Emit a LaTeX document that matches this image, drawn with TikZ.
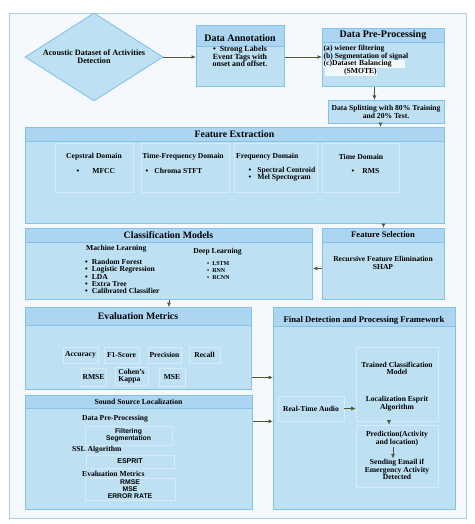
\documentclass[tikz,border=0pt]{standalone}
\usepackage{fontspec}
\setmainfont{Liberation Serif}
\newfontfamily\sansb{Liberation Sans}
\usetikzlibrary{shapes.geometric,arrows.meta,calc}
\definecolor{pagebg}{HTML}{F5F9FD}
\definecolor{framec}{HTML}{A9CEE4}
\definecolor{boxfill}{HTML}{BEE0F3}
\definecolor{headfill}{HTML}{ABD5F1}
\definecolor{boxline}{HTML}{85C2EA}
\definecolor{innerline}{HTML}{D6EBF7}
\definecolor{arrowc}{HTML}{4F5733}
\definecolor{hl}{HTML}{F2F8FC}
\newcommand\fs[2]{\fontsize{#1}{#2}\selectfont\bfseries}
\newcommand\panelhead[2]{%
  \fill[headfill] ([xshift=0.45pt,yshift=-0.45pt]#1.north west) rectangle ([xshift=-0.45pt,yshift=-#2pt]#1.north east);
  \draw[boxline,line width=0.6pt] ([yshift=-#2pt]#1.north west) -- ([yshift=-#2pt]#1.north east);
  \draw[boxline,line width=0.9pt] (#1.north west) rectangle (#1.south east);}
\begin{document}
\begin{tikzpicture}[x=1pt,y=-1pt,
  panel/.style={draw=boxline, fill=boxfill, line width=0.9pt, anchor=north west, inner sep=0pt},
  inbox/.style={draw=innerline, line width=0.6pt, fill=boxfill, inner sep=0pt, align=center, font={\fs{7.6}{7.4}}},
  txt/.style={inner sep=0pt, align=center, font={\fs{7.6}{7.4}}},
  ltxt/.style={inner sep=0pt, anchor=west, font={\fs{7.6}{7.4}}},
  sans/.style={inner sep=0pt, align=center, font={\sansb\fs{6.8}{7}}},
  arr/.style={draw=arrowc, line width=0.9pt, -{Latex[length=4.5pt,width=4pt]}}
]
\useasboundingbox (0,0) rectangle (474,524);
\fill[white] (0,0) rectangle (474,524);
\node[draw=framec, fill=pagebg, line width=1pt, anchor=north west, inner sep=0pt, minimum width=457pt, minimum height=505pt] (frame) at (9,13) {};

% Diamond
\node[diamond, draw=boxline, fill=boxfill, line width=0.9pt, minimum width=138pt, minimum height=88pt, inner sep=0pt] (ds) at (94,57) {};
\node[txt, font={\fs{8.2}{8}}] (dstxt) at (94,57) {Acoustic Dataset of Activities\\Detection};

% Data Annotation
\node[panel, minimum width=88pt, minimum height=61pt] (da) at (196,25) {};
\panelhead{da}{21}
\node[txt, font={\fs{10}{11}}] (datitle) at (240,38.5) {Data Annotation};
\node[txt, font={\fs{7.9}{7.5}}] (datxt) at (240,56.5) {\textbullet\ \ Strong Labels\\Event Tags with\\onset and offset.};

% Data Pre-Processing
\node[panel, minimum width=122pt, minimum height=58pt] (dpp) at (322,28) {};
\panelhead{dpp}{14}
\node[txt, font={\fs{10}{11}}] (dpptitle) at (383,35) {Data Pre-Processing};
\node[ltxt] (dppa) at (323.5,49) {(a) wiener filtering};
\node[ltxt] (dppb) at (323.5,56.5) {(b) Segmentation of signal};
\node[ltxt, fill=hl, inner xsep=0.5pt, inner ysep=0.6pt, text width=81pt] (dppc) at (323,64) {(c)Dataset Balancing};
\node[ltxt, fill=hl, inner xsep=0.5pt, inner ysep=0.6pt, text width=51pt, align=right] (dppd) at (325,71.5) {(SMOTE)\hspace{14pt}};

% Data Splitting
\node[panel, minimum width=116pt, minimum height=23pt] (split) at (328,100) {};
\node[txt] (splittxt) at (386,112) {Data Splitting with 80\% Training\\and 20\% Test.};

% Feature Extraction
\node[panel, minimum width=419pt, minimum height=96pt] (fe) at (25,127) {};
\panelhead{fe}{14}
\node[txt, font={\fs{9.8}{11}}] (fetitle) at (234.5,134) {Feature Extraction};
\node[inbox, anchor=north west, minimum width=78pt, minimum height=49pt] (cep) at (55,143) {};
\node[inbox, anchor=north west, minimum width=88pt, minimum height=49pt] (tfd) at (141,143) {};
\node[inbox, anchor=north west, minimum width=83pt, minimum height=49pt] (fqd) at (234,143) {};
\node[inbox, anchor=north west, minimum width=77pt, minimum height=49pt] (tdd) at (322,143) {};
\node[txt] (ceptitle) at (94,157) {Cepstral Domain};
\node[txt] (tftitle) at (183,157) {Time-Frequency Domain};
\node[ltxt] (fqtitle) at (236,157) {Frequency Domain};
\node[txt] (tdtitle) at (361,157) {Time Domain};
\node[ltxt] (mfcc) at (76.5,171) {\textbullet\hspace{13pt}MFCC};
\node[ltxt] (chroma) at (145.5,171) {\textbullet\hspace{6pt}Chroma STFT};
\node[ltxt] (spc) at (248.5,171) {\textbullet\hspace{6pt}Spectral Centroid};
\node[ltxt] (mel) at (248.5,177.7) {\textbullet\hspace{6pt}Mel Spectogram};
\node[ltxt] (rms) at (351.5,171) {\textbullet\hspace{8pt}RMS};

% Classification Models
\node[panel, minimum width=287pt, minimum height=71pt] (cm) at (25,228) {};
\panelhead{cm}{14}
\node[txt, font={\fs{9.8}{11}}] (cmtitle) at (168.5,235) {Classification Models};
\node[ltxt] (mltitle) at (86,249) {Machine Learning};
\node[ltxt] (ml1) at (85,262) {\textbullet\hspace{4pt}Random Forest};
\node[ltxt] (ml2) at (85,269.5) {\textbullet\hspace{4pt}Logistic Regression};
\node[ltxt] (ml3) at (85,277) {\textbullet\hspace{4pt}LDA};
\node[ltxt] (ml4) at (85,284) {\textbullet\hspace{4pt}Extra Tree};
\node[ltxt] (ml5) at (85,291) {\textbullet\hspace{4pt}Calibrated Classifier};
\node[txt] (dltitle) at (217.5,252) {Deep Learning};
\node[ltxt, font={\fs{6}{6}}] (dl1) at (207,264) {\textbullet\hspace{3pt}LSTM};
\node[ltxt, font={\fs{6}{6}}] (dl2) at (207,270.7) {\textbullet\hspace{3pt}RNN};
\node[ltxt, font={\fs{6}{6}}] (dl3) at (207,277.4) {\textbullet\hspace{3pt}RCNN};

% Feature Selection
\node[panel, minimum width=122pt, minimum height=71pt] (fs) at (322,228) {};
\panelhead{fs}{14}
\node[txt, font={\fs{8.6}{10}}] (fstitle) at (383,235) {Feature Selection};
\node[txt, font={\fs{7.6}{8}}] (fstxt) at (383,263) {Recursive Feature Elimination\\SHAP};

% Evaluation Metrics
\node[panel, minimum width=226pt, minimum height=82pt] (em) at (25,307) {};
\panelhead{em}{18}
\node[txt, font={\fs{9.8}{11}}] (emtitle) at (138,316) {Evaluation Metrics};
\node[inbox, minimum width=35pt, minimum height=16pt] (acc) at (80.5,355) {Accuracy};
\node[inbox, minimum width=35pt, minimum height=16pt] (fone) at (121.5,355) {F1-Score};
\node[inbox, minimum width=33pt, minimum height=16pt] (prec) at (164.5,355) {Precision};
\node[inbox, minimum width=31pt, minimum height=16pt] (rec) at (204.5,355) {Recall};
\node[inbox, minimum width=25pt, minimum height=18pt] (rmse) at (93.5,377) {RMSE};
\node[inbox, minimum width=33pt, minimum height=18pt, align=left] (ck) at (131.5,376) {Cohen's\\Kappa};
\node[inbox, minimum width=26pt, minimum height=18pt] (mse) at (172,377) {MSE};

% Sound Source Localization
\node[panel, minimum width=227pt, minimum height=114pt] (ssl) at (25,395) {};
\panelhead{ssl}{13}
\node[txt, font={\fs{7.7}{9}}] (ssltitle) at (138.5,401.5) {Sound Source Localization};
\node[ltxt] (sslpre) at (82,419) {Data Pre-Processing};
\node[inbox, minimum width=87pt, minimum height=19pt, font={\sansb\fs{6.8}{7}}] (sslbox1) at (128.5,435.5) {Filtering\\Segmentation};
\node[ltxt] (sslalg) at (72,450) {SSL Algorithm};
\node[inbox, minimum width=88pt, minimum height=13pt, font={\sansb\fs{7}{7}}] (sslbox2) at (130,461.5) {ESPRIT};
\node[ltxt] (sslev) at (82,474) {Evaluation Metrics};
\node[inbox, minimum width=90pt, minimum height=22pt, font={\sansb\fs{6.8}{7}}] (sslbox3) at (130,489.5) {RMSE\\MSE\\ERROR RATE};

% Final Detection
\node[panel, minimum width=182pt, minimum height=202pt] (fd) at (273,307) {};
\panelhead{fd}{19}
\node[txt, font={\fs{8.7}{10}}] (fdtitle) at (364,320) {Final Detection and Processing Framework};
\node[inbox, minimum width=66pt, minimum height=25pt] (rta) at (311,408.5) {Real-Time Audio};
\node[inbox, minimum width=82pt, minimum height=74pt] (tr) at (397,384) {};
\node[txt] (trtxt1) at (397,368.5) {Trained Classification\\Model};
\node[txt] (trtxt2) at (397,403.5) {Localization Esprit\\Algorithm};
\node[inbox, minimum width=82pt, minimum height=62pt] (pred) at (397,456) {};
\node[txt] (predtxt) at (397,438.5) {Prediction(Activity\\and location)};
\node[txt] (sendtxt) at (397,469.7) {Sending Email if\\Emergency Activity\\Detected};

% Connectors
\draw[arr] (ds.east) -- (ds.east -| da.west);
\draw[arr] (ds.east -| da.east) -- (ds.east -| dpp.west);
\draw[arr] ([xshift=-9pt]dpp.south) -- ([xshift=-9pt]dpp.south |- split.north);
\draw[arr] ([xshift=-6pt]split.south) -- ([xshift=-6pt]split.south |- fe.north);
\draw[arr] (fs.north |- fe.south) -- (fs.north);
\draw[arr] ([yshift=-4.5pt]fs.west) -- ([yshift=-4.5pt]fs.west -| cm.east);
\draw[arr, line width=0.6pt] (cm.south) -- (cm.south |- em.north);
\draw[arr] ([yshift=-29pt]em.east) -- ([yshift=-29pt]em.east -| fd.west);
\draw[arr] (ssl.east |- rta.south) -- (fd.west |- rta.south);
\draw[arr, line width=0.6pt] (rta.east) -- (rta.east -| tr.west);
\draw[arr, line width=0.6pt] ([xshift=-8pt]tr.south) -- ([xshift=-8pt]tr.south |- pred.north);
\draw[arr, line width=0.6pt] ([xshift=-4pt,yshift=-1pt]predtxt.south) -- ([xshift=-4pt,yshift=1pt]predtxt.south |- sendtxt.north);
\end{tikzpicture}
\end{document}
